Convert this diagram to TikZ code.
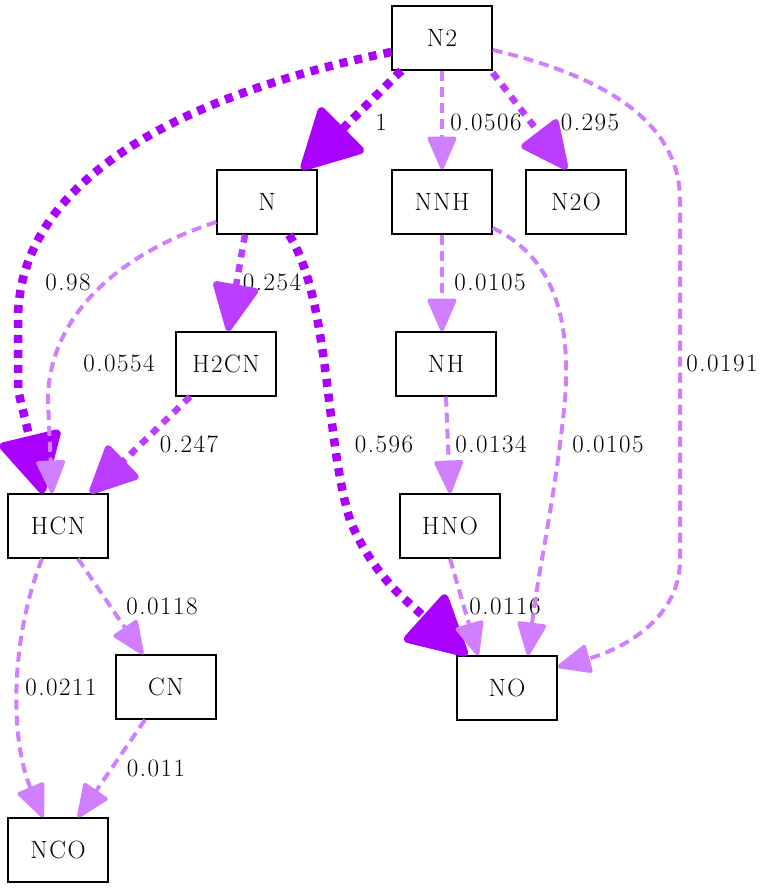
\documentclass[tikz,border=0pt]{standalone}
\usepackage{fontspec}
\setmainfont{Latin Modern Roman}[LetterSpace=6]
\usetikzlibrary{arrows.meta}
\definecolor{fluxheavy}{HTML}{AA00FF}
\definecolor{fluxmid}{HTML}{BB3DFF}
\definecolor{fluxlight}{HTML}{D07FFF}
\tikzstyle{box}=[rectangle,draw,line width=1.4pt,minimum width=100pt,minimum height=64pt,inner sep=0,font=\fontsize{25}{30}\selectfont]
\tikzstyle{lbl}=[inner sep=0,font=\fontsize{25}{30}\selectfont]
\tikzstyle{heavyedge}=[line width=8.5pt,fluxheavy,dash pattern=on 8pt off 7pt,-{Triangle[length=64pt,width=66pt,round]}]
\tikzstyle{midedge}=[line width=6.5pt,fluxmid,dash pattern=on 8pt off 7pt,-{Triangle[length=52pt,width=48pt,round]}]
\tikzstyle{lightedge}=[line width=4pt,fluxlight,dash pattern=on 10pt off 6pt,-{Triangle[length=36pt,width=30pt,round]}]

\begin{document}
\begin{tikzpicture}[x=1pt,y=-1pt]
\useasboundingbox (0,0) rectangle (768,891);

% species
\foreach \n/\x/\y in {N2/442/38,N/267/202,NNH/442/202,N2O/576/202,H2CN/226/364,NH/446/364,
	HCN/58/526,HNO/450/526,CN/166/687,NO/507/688,NCO/58/850}{
	\node[box] (\n) at (\x,\y) {\n};}

% fluxes
\foreach \n/\x/\y/\t in {l1/381/122/1,l2/486/122/0.0506,l3/590/122/0.295,l4/68/282/0.98,
	l5/272/282/0.254,l6/490/282/0.0105,l7/119/363/0.0554,l8/722/363/0.0191,l9/189/444/0.247,
	l10/384/444/0.596,l11/491/444/0.0134,l12/608/444/0.0105,l13/162/606/0.0118,
	l14/505/606/0.0116,l15/61/687/0.0211,l16/156/768/0.011}{
	\node[lbl] (\n) at (\x,\y) {\t};}

\draw[heavyedge] ([xshift=10pt]N2.south west) -- ([xshift=-16pt]N.north east);
\draw[heavyedge] ([yshift=-14pt]N2.west) .. controls (230,85) and (18,160) .. (18,320)
	-- (18,390) -- ([xshift=-15pt]HCN.north);
\draw[heavyedge] ([xshift=22pt]N.south) .. controls (330,300) and (325,440) .. (350,520)
	.. controls (362,550) and (380,575) .. (400,595) -- ([xshift=-40pt]NO.north);
\draw[lightedge] (N2.south) -- (NNH.north);
\draw[midedge] ([yshift=-2pt]N2.south east) -- ([xshift=-9pt]N2O.north);
\draw[lightedge] ([yshift=-12pt]N2.east) .. controls (600,75) and (680,120) .. (680,200) -- (680,560)
	.. controls (680,620) and (620,650) .. ([yshift=21pt]NO.east);
\draw[lightedge] ([yshift=-20pt]N.west) .. controls (100,260) and (48,330) .. (48,400)
	-- ([xshift=-6pt]HCN.north);
\draw[midedge] ([xshift=-22pt]N.south) -- ([xshift=2pt]H2CN.north);
\draw[lightedge] (NNH.south) -- ([xshift=-4pt]NH.north);
\draw[lightedge] ([yshift=-26pt]NNH.east) .. controls (560,260) and (570,330) .. (565,400)
	.. controls (555,500) and (540,560) .. ([xshift=21pt]NO.north);
\draw[midedge] ([xshift=-36pt]H2CN.south) -- ([xshift=32pt]HCN.north);
\draw[lightedge] (NH.south) -- (HNO.north);
\draw[lightedge] (HNO.south) -- ([xshift=-29pt]NO.north);
\draw[lightedge] ([xshift=20pt]HCN.south) -- ([xshift=-23pt]CN.north);
\draw[lightedge] ([xshift=-16pt]HCN.south) .. controls (10,640) and (10,740) .. ([xshift=-15pt]NCO.north);
\draw[lightedge] ([xshift=-21pt]CN.south) -- ([xshift=20pt]NCO.north);
\end{tikzpicture}
\end{document}
